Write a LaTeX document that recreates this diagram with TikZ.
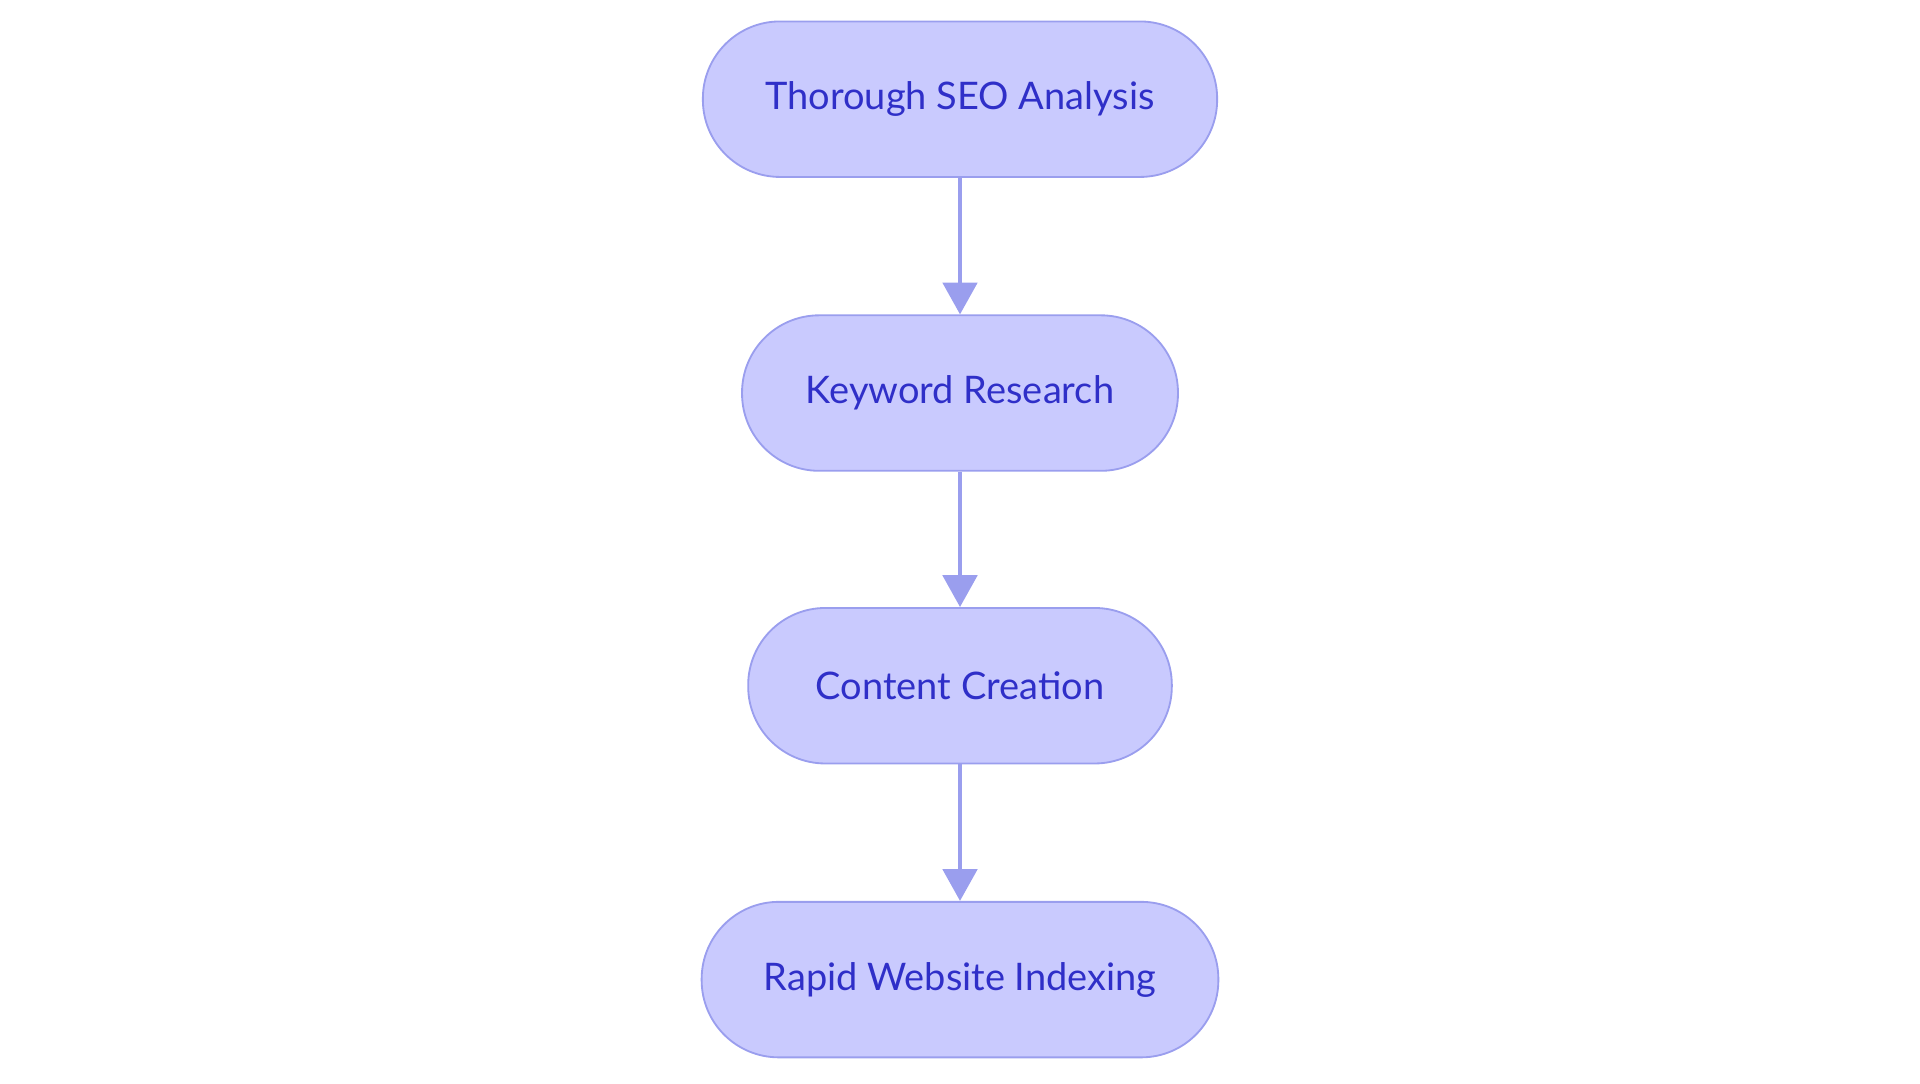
\documentclass[tikz,border=0pt]{standalone}
\usepackage{fontspec}
\setmainfont{Lato}
\usetikzlibrary{arrows.meta}
\definecolor{fillc}{HTML}{C9CAFE}
\definecolor{edgec}{HTML}{9A9EEE}
\definecolor{textc}{HTML}{2F2FC8}
\tikzset{
  pill/.style={draw=edgec, line width=1.5pt, fill=fillc, rounded corners=63pt,
    minimum height=127pt, text=textc, font=\fontsize{31}{36}\selectfont, inner sep=0pt},
  link/.style={draw=edgec, line width=3.5pt, -{Triangle[width=28pt,length=26pt]}}
}
\begin{document}
\begin{tikzpicture}[x=1pt,y=1pt]
\useasboundingbox (0,0) rectangle (1568,-884.5);
\node[pill, minimum width=420pt] (a) at (784,-81) {Thorough SEO Analysis};
\node[pill, minimum width=356pt] (b) at (784,-321) {Keyword Research};
\node[pill, minimum width=346pt] (c) at (784,-560) {Content Creation};
\node[pill, minimum width=422pt] (d) at (784,-800) {Rapid Website Indexing};
\draw[link] (a) -- (b);
\draw[link] (b) -- (c);
\draw[link] (c) -- (d);
\end{tikzpicture}
\end{document}
